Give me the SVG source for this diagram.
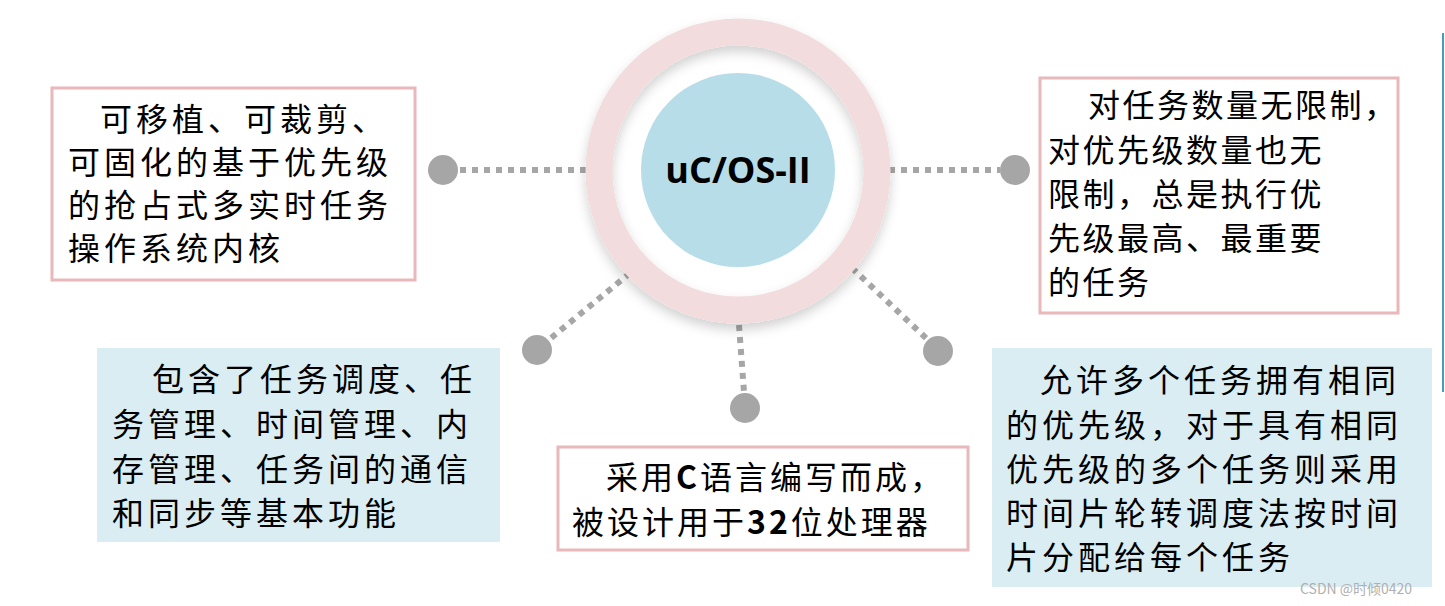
<svg xmlns="http://www.w3.org/2000/svg" width="1445" height="606" viewBox="0 0 1445 606">
<style>
.t{font-family:"Noto Sans CJK SC","Noto Sans",sans-serif;font-size:32px;letter-spacing:4px;fill:#000}
.pb{fill:#fff;stroke:#e8b8bb;stroke-width:3}
.bb{fill:#daedf3}
.dl{stroke:#a6a6a6;stroke-width:6;stroke-dasharray:6 6;fill:none}
.dot{fill:#a6a6a6}
</style>
<defs><filter id="sh" x="-20%" y="-20%" width="140%" height="140%"><feDropShadow dx="0" dy="6" stdDeviation="6" flood-color="#000" flood-opacity="0.18"/></filter></defs>
<rect width="1445" height="606" fill="#fff"/>
<line x1="1443" y1="33" x2="1443" y2="392" stroke="#4a9bb5" stroke-width="2"/>
<g id="connectors">
<line class="dl" x1="460" y1="170" x2="588" y2="170"/>
<line class="dl" x1="865" y1="170" x2="1000" y2="170"/>
<line class="dl" x1="630" y1="273" x2="545" y2="343"/>
<line class="dl" x1="739" y1="325" x2="744" y2="392"/>
<line class="dl" x1="852" y1="268" x2="928" y2="340"/>
<circle class="dot" cx="443" cy="170" r="15"/>
<circle class="dot" cx="1015" cy="170" r="15"/>
<circle class="dot" cx="537" cy="350" r="15"/>
<circle class="dot" cx="745" cy="408" r="15"/>
<circle class="dot" cx="938" cy="351" r="15"/>
</g>
<g id="center">
<circle cx="738" cy="171" r="139" fill="none" stroke="#f2dcdd" stroke-width="27" filter="url(#sh)"/>
<circle cx="738" cy="170" r="97" fill="#b7dde8"/>
<text x="738" y="183" text-anchor="middle" font-family="'Open Sans','Noto Sans',sans-serif" font-weight="bold" font-size="36">uC/OS-II</text>
</g>
<g id="n1">
<rect class="pb" x="52" y="88" width="363" height="192"/>
<text class="t" x="100" y="131">可移植、可裁剪、</text>
<text class="t" x="68" y="174">可固化的基于优先级</text>
<text class="t" x="68" y="217">的抢占式多实时任务</text>
<text class="t" x="68" y="260">操作系统内核</text>
</g>
<g id="n2">
<rect class="pb" x="1040" y="78" width="358" height="235"/>
<text class="t" x="1088" y="117" style="letter-spacing:2.5px">对任务数量无限制，</text>
<text class="t" x="1048" y="162" style="letter-spacing:2.5px">对优先级数量也无</text>
<text class="t" x="1048" y="206" style="letter-spacing:2.5px">限制，总是执行优</text>
<text class="t" x="1048" y="250" style="letter-spacing:2.5px">先级最高、最重要</text>
<text class="t" x="1048" y="294" style="letter-spacing:2.5px">的任务</text>
</g>
<g id="n3">
<rect class="bb" x="97" y="348" width="403" height="194"/>
<text class="t" x="152" y="391">包含了任务调度、任</text>
<text class="t" x="112" y="436">务管理、时间管理、内</text>
<text class="t" x="112" y="481">存管理、任务间的通信</text>
<text class="t" x="112" y="525">和同步等基本功能</text>
</g>
<g id="n4">
<rect class="pb" x="558" y="447" width="410" height="103"/>
<text class="t" x="606" y="489" style="letter-spacing:3px">采用<tspan font-weight="bold">C</tspan>语言编写而成，</text>
<text class="t" x="572" y="534" style="letter-spacing:3px">被设计用于<tspan font-weight="bold">32</tspan>位处理器</text>
</g>
<g id="n5">
<rect class="bb" x="992" y="348" width="440" height="239"/>
<text class="t" x="1040" y="392">允许多个任务拥有相同</text>
<text class="t" x="1006" y="437">的优先级，对于具有相同</text>
<text class="t" x="1006" y="481">优先级的多个任务则采用</text>
<text class="t" x="1006" y="525">时间片轮转调度法按时间</text>
<text class="t" x="1006" y="569">片分配给每个任务</text>
</g>
<text x="1300" y="594" font-family="'Noto Sans CJK SC',sans-serif" font-size="14" fill="#b0b0b0">CSDN @时倾0420</text>
</svg>
